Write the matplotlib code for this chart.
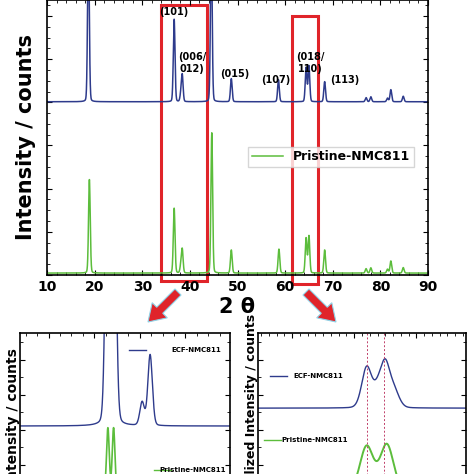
import matplotlib
matplotlib.use("Agg")
import matplotlib.pyplot as plt
import numpy as np
from matplotlib.patches import Rectangle, FancyArrow
from matplotlib.ticker import MultipleLocator

BLUE = "#2e3b8c"
GREEN = "#5cbd3c"
RED = "#e0242a"

# peak tables: position (2theta), height
ecf_pos = [18.7, 36.7, 38.1, 38.4, 44.5, 48.7, 58.6, 64.4, 65.0, 68.3, 77.0, 78.0, 81.5, 82.2, 84.8]
ecf_h = [60, 30, 2.5, 9.5, 60, 8.4, 8.0, 12.4, 13.0, 7.3, 1.5, 1.8, 1.3, 4.4, 2.0]
pri_pos = [18.9, 36.7, 38.1, 38.4, 44.6, 48.7, 58.7, 64.4, 65.0, 68.3, 77.0, 78.0, 81.5, 82.2, 84.8]
pri_h = [34, 23.6, 2.5, 8.4, 51, 8.4, 8.7, 12.7, 13.5, 8.4, 1.6, 1.9, 1.4, 4.4, 2.0]
main_base = [63.0, 0.7]

left_ecf_pos = [36.6, 36.85, 38.1, 38.45]
left_ecf_h = [200, 200, 14, 42.5]
left_pri_pos = [36.6, 36.85]
left_pri_h = [38, 38]
left_base = [44.3, 5.0]

right_ecf_pos = [64.4, 64.75, 65.0, 65.3]
right_ecf_h = [24, 9, 25, 9]
right_pri_pos = [64.4, 65.05]
right_pri_h = [27, 28]
right_base = [55.0, 5.0]


def pattern(x, pos, h, w):
    # pseudo-Voigt peaks, mostly gaussian
    y = np.zeros_like(x)
    for p, a in zip(pos, h):
        g = np.exp(-0.5 * ((x - p) / w) ** 2)
        l = 1 / (1 + ((x - p) / w) ** 2)
        y += a * (0.85 * g + 0.15 * l)
    return y


def style_axes(ax, labels=True):
    ax.tick_params(direction="in", which="both", top=True, right=True,
                   labelleft=False, labelright=False, labelbottom=labels)
    for s in ax.spines.values():
        s.set_linewidth(1.2)


fig = plt.figure(figsize=(4.74, 4.74), dpi=100)
W = H = 474.0


def px_axes(x0, y0, x1, y1):
    return fig.add_axes([x0 / W, 1 - y1 / H, (x1 - x0) / W, (y1 - y0) / H])


# main panel
ax = px_axes(47, 0, 428, 275)
x = np.linspace(10, 90, 5000)
ax.plot(x, main_base[0] + pattern(x, ecf_pos, ecf_h, 0.18), color=BLUE, lw=1.1)
ax.plot(x, main_base[1] + pattern(x, pri_pos, pri_h, 0.18), color=GREEN, lw=1.1,
        label="Pristine-NMC811")
ax.set_xlim(10, 90)
ax.set_ylim(0, 100)
ax.yaxis.set_major_locator(MultipleLocator(15.7))
ax.yaxis.set_minor_locator(MultipleLocator(15.7 / 4))
ax.xaxis.set_minor_locator(MultipleLocator(2))
style_axes(ax)
for t in ax.get_xticklabels():
    t.set_fontweight("bold")
    t.set_fontsize(10)
ax.set_xlabel("2 θ", fontsize=15, fontweight="bold", labelpad=2)
ax.set_ylabel("Intensity / counts", fontsize=15, fontweight="bold", labelpad=8)
ax.legend(loc="center right", bbox_to_anchor=(0.98, 0.43),
          prop={"weight": "bold", "size": 9}, fancybox=False, borderpad=0.3,
          handlelength=2.5)

for txt, xx, yy in [("(101)", 36.6, 95.5), ("(006/\n012)", 40.5, 77),
                    ("(015)", 49.5, 73), ("(107)", 58.0, 71),
                    ("(018/\n110)", 65.2, 77), ("(113)", 72.5, 71)]:
    ax.text(xx, yy, txt, fontsize=7, fontweight="bold", ha="center", va="center",
            linespacing=1.3)

ax.add_patch(Rectangle((34, -2), 9.5, 100.2, fill=False, ec=RED, lw=2.2, clip_on=False))
ax.add_patch(Rectangle((61.5, -3.3), 5.5, 97.5, fill=False, ec=RED, lw=2.2, clip_on=False))

# arrows in figure coordinates
for (xa, ya, dx, dy) in [(178, 292, -30, 30), (306, 292, 30, 30)]:
    fig.patches.append(FancyArrow(xa / W, 1 - ya / H, dx / W, -dy / H, width=0.018,
                                  head_width=0.045, head_length=0.035,
                                  length_includes_head=True, fc=RED, ec="#8fd3e8",
                                  lw=0.8, transform=fig.transFigure))

# left zoom panel
axl = px_axes(20, 333, 230, 500)
xl = np.linspace(32.75, 41.95, 1500)
axl.plot(xl, left_base[0] + pattern(xl, left_ecf_pos, left_ecf_h, 0.1), color=BLUE,
         lw=1.0)
axl.plot(xl, left_base[1] + pattern(xl, left_pri_pos, left_pri_h, 0.06), color=GREEN,
         lw=1.2)
axl.set_xlim(32.75, 41.95)
axl.set_ylim(0, 100)
axl.xaxis.set_minor_locator(MultipleLocator(0.5))
axl.yaxis.set_minor_locator(MultipleLocator(10.5))
axl.yaxis.set_major_locator(MultipleLocator(21))
style_axes(axl, labels=False)
axl.set_ylabel("Intensity / counts", fontsize=10, fontweight="bold", labelpad=0)
axl.text(0.96, 0.9, "ECF-NMC811", transform=axl.transAxes, ha="right", va="center",
         fontsize=5, fontweight="bold")
axl.plot([0.52, 0.6], [0.9, 0.9], transform=axl.transAxes, color=BLUE, lw=1)
axl.text(0.98, 0.18, "Pristine-NMC811", transform=axl.transAxes, ha="right",
         va="center", fontsize=5, fontweight="bold")
axl.plot([0.64, 0.72], [0.18, 0.18], transform=axl.transAxes, color=GREEN, lw=1)

# right zoom panel
axr = px_axes(258, 333, 466, 500)
xr = np.linspace(60.9, 67.6, 1500)
axr.plot(xr, right_base[0] + pattern(xr, right_ecf_pos, right_ecf_h, 0.16), color=BLUE,
         lw=1.0)
axr.plot(xr, right_base[1] + pattern(xr, right_pri_pos, right_pri_h, 0.22), color=GREEN,
         lw=1.4)
for p in [64.4, 64.97]:
    axr.axvline(p, color="#c0406a", ls=(0, (2, 2)), lw=0.7)
axr.set_xlim(60.9, 67.6)
axr.set_ylim(0, 100)
axr.xaxis.set_minor_locator(MultipleLocator(0.25))
axr.yaxis.set_major_locator(MultipleLocator(21))
axr.yaxis.set_minor_locator(MultipleLocator(10.5))
style_axes(axr, labels=False)
axr.set_ylabel("Normalized Intensity / counts", fontsize=9, fontweight="bold",
               labelpad=0)
axr.text(0.41, 0.74, "ECF-NMC811", transform=axr.transAxes, ha="right", va="center",
         fontsize=5, fontweight="bold")
axr.plot([0.06, 0.14], [0.74, 0.74], transform=axr.transAxes, color=BLUE, lw=1)
axr.text(0.43, 0.36, "Pristine-NMC811", transform=axr.transAxes, ha="right",
         va="center", fontsize=5, fontweight="bold")
axr.plot([0.03, 0.11], [0.36, 0.36], transform=axr.transAxes, color=GREEN, lw=1)

fig.savefig("out.png", dpi=100)
